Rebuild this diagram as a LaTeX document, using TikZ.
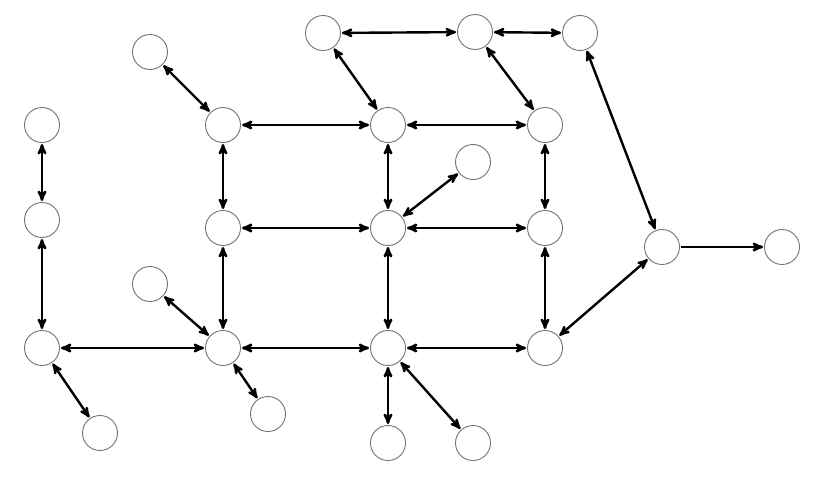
\documentclass[tikz,border=0pt]{standalone}
\usepackage{tikz}
\usetikzlibrary{arrows}

\begin{document}
\begin{tikzpicture}[x=1pt,y=-1pt,<->,>=stealth',shorten >=1pt,shorten <=1pt,line width=2.4pt]
\tikzstyle{every node}=[circle,draw=black!55,line width=0.9pt,minimum size=35pt,inner sep=0pt,fill=white]
\useasboundingbox (0,0) rectangle (818,482);
% top row
\node (A) at (323,33) {};
\node (B) at (475,32) {};
\node (C) at (580,33) {};
\node (D) at (150,52) {};
% second row
\node (E) at (42,125) {};
\node (F) at (223,125) {};
\node (G) at (388,125) {};
\node (H) at (545,125) {};
\node (I) at (473,162) {};
% middle row
\node (J) at (42,220) {};
\node (K) at (223,228) {};
\node (L) at (388,228) {};
\node (M) at (545,228) {};
\node (N) at (662,247) {};
\node (O) at (782,247) {};
\node (P) at (150,284) {};
% bottom row
\node (Q) at (42,348) {};
\node (R) at (223,348) {};
\node (S) at (388,348) {};
\node (T) at (545,348) {};
\node (U) at (100,433) {};
\node (V) at (268,414) {};
\node (W) at (388,443) {};
\node (X) at (473,443) {};
\path (A) edge (B)
          edge (G)
      (B) edge (C)
          edge (H)
      (C) edge (N)
      (D) edge (F)
      (E) edge (J)
      (J) edge (Q)
      (F) edge (G)
          edge (K)
      (G) edge (H)
          edge (L)
      (H) edge (M)
      (I) edge (L)
      (K) edge (L)
          edge (R)
      (L) edge (M)
          edge (S)
      (M) edge (T)
      (T) edge (N)
      (N) edge [->] (O)
      (P) edge (R)
      (Q) edge (R)
          edge (U)
      (R) edge (S)
          edge (V)
      (S) edge (T)
          edge (W)
          edge (X);
\end{tikzpicture}
\end{document}
